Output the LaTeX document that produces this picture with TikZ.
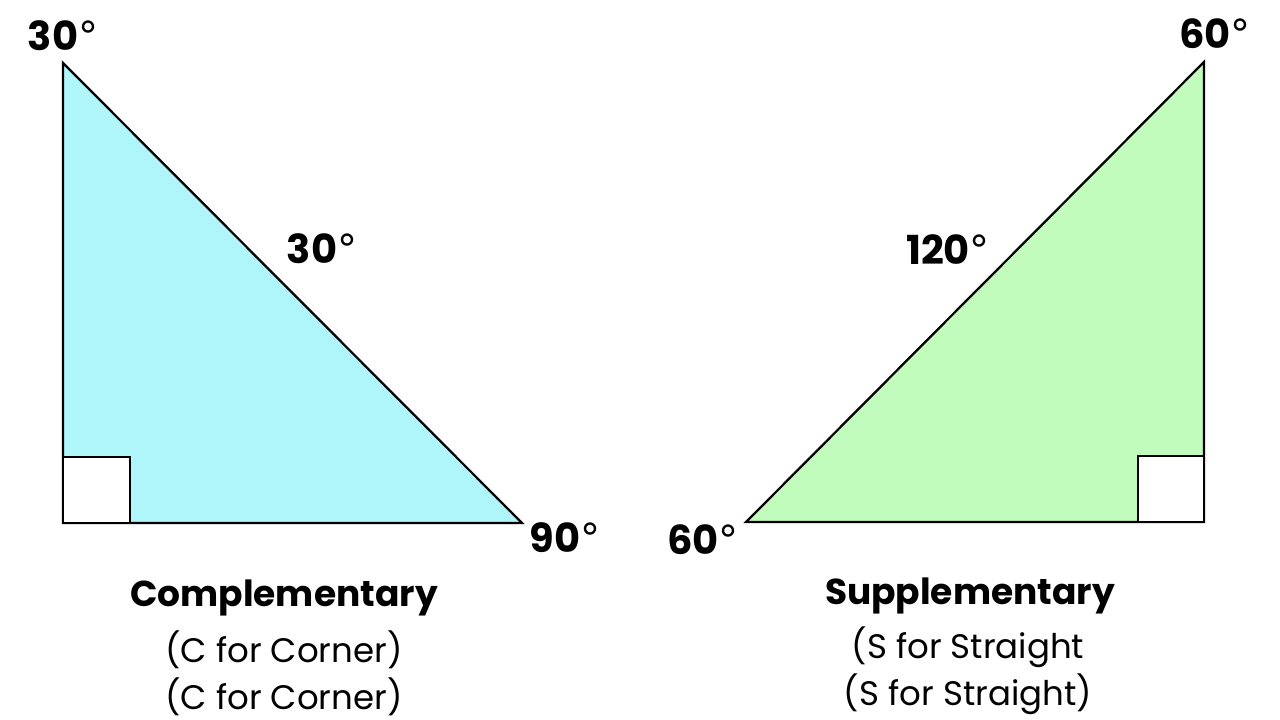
\documentclass[tikz,border=0pt]{standalone}
\usepackage{fontspec}
\setmainfont{Poppins}
\newfontfamily\degfont{DejaVu Sans}
\newcommand{\dg}{{\degfont\mdseries °}}
\definecolor{compcyan}{RGB}{174,246,250}
\definecolor{suppgreen}{RGB}{194,252,188}
\tikzset{
	tri/.style={draw=black,line width=1.7pt,line join=miter},
	rtbox/.style={draw=black,line width=1.4pt,fill=white},
	ang/.style={font=\fontsize{30}{34}\selectfont\bfseries,inner sep=0pt},
	title/.style={font=\fontsize{27}{30}\selectfont\bfseries,inner sep=0pt},
	sub/.style={font=\fontsize{25.5}{30}\selectfont,inner sep=0pt}
}

\begin{document}
\begin{tikzpicture}[x=0.75pt,y=-0.75pt]
		\useasboundingbox (0,0) rectangle (1280,720);
		
		% complementary triangle
		\draw[tri,fill=compcyan] (63,63)--(63,523)--(522,523)--cycle;
		\draw[rtbox] (63,457) rectangle (130,523);
		
		% supplementary triangle
		\draw[tri,fill=suppgreen] (1204,62)--(1204,522)--(746,522)--cycle;
		\draw[rtbox] (1138,456) rectangle (1204,522);
		
		\node[ang] (ctop) at (63,36){30\dg};
		\node[ang] (cmid) at (322,249){30\dg};
		\node[ang] (cright) at (565,538){90\dg};
		
		\node[ang] (sleft) at (703,540){60\dg};
		\node[ang] (smid) at (948,250){120\dg};
		\node[ang] (stop) at (1215,34){60\dg};
		
		\node[title] (comp) at (284,598){Complementary};
		\node[sub] (compa) at (284,650){(C for Corner)};
		\node[sub] (compb) at (284,697){(C for Corner)};
		
		\node[title] (supp) at (970,596){Supplementary};
		\node[sub] (suppa) at (968,647){(S for Straight};
		\node[sub] (suppb) at (968,694){(S for Straight)};
	\end{tikzpicture}
\end{document}
